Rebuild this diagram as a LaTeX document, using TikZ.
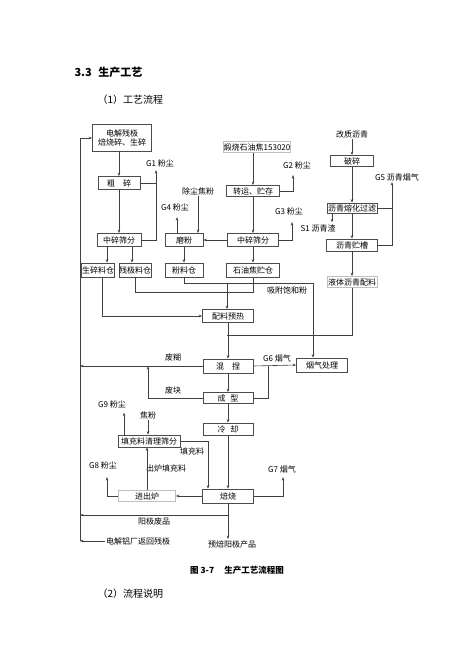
\documentclass[tikz,border=0pt]{standalone}
\usepackage{fontspec}
\setmainfont{Noto Sans CJK SC}
\usetikzlibrary{arrows.meta}

\begin{document}
\begin{tikzpicture}[x=1pt,y=-1pt,
    >={Stealth[length=3.5pt,width=2.6pt]},
    box/.style = {draw=black!70,
      line width=0.7pt,
      rectangle,
      inner sep=0pt,
      minimum height=13pt,
      font=\fontsize{8}{9}\selectfont},
    lbox/.style = {box, draw=black!25},
    lbl/.style = {inner sep=1pt, font=\fontsize{8}{9}\selectfont},
    flow/.style = {draw=black!75, line width=0.6pt, ->},
    line/.style = {draw=black!75, line width=0.6pt}]

\useasboundingbox (0,0) rectangle (474,670);

% headings
\node[anchor=west, font=\bfseries\fontsize{11}{13}\selectfont] (sec) at (71,72) {3.3\hspace{0.6em}生产工艺};
\node[anchor=west, font=\fontsize{10}{12}\selectfont] (sub1) at (94,100) {（1）工艺流程};

% left column
\node (cj) at (122,138) [box, minimum width=59pt, minimum height=27pt, align=center] {电解残极\\焙烧碎、生碎};
\node (cs) at (119,183) [box, minimum width=42pt] {粗\hspace{1em}碎};
\node (zs1) at (119,240) [box, minimum width=44pt] {中碎筛分};
\node (sc) at (98,270) [box, minimum width=33pt, minimum height=14pt] {生碎料仓};
\node (cc) at (135,270) [box, minimum width=31pt, minimum height=14pt] {残极料仓};

% middle column
\node (mf) at (184,240) [box, minimum width=38pt] {磨粉};
\node (fc) at (184,270) [box, minimum width=38pt, minimum height=14pt] {粉料仓};
\node (sy) at (257,147) [lbox, minimum width=61pt, minimum height=11pt] {煅烧石油焦153020};
\node (zy) at (253,191) [box, minimum width=53pt, minimum height=11pt] {转运、贮存};
\node (zs2) at (253,240) [box, minimum width=51pt] {中碎筛分};
\node (yc) at (253,270) [box, minimum width=53pt, minimum height=14pt] {石油焦贮仓};

% pitch column
\node (gz) at (352,134) [lbl] {改质沥青};
\node (ps) at (352,161) [box, minimum width=43pt, minimum height=11pt] {破碎};
\node (rh) at (352,208) [box, minimum width=50pt, minimum height=10pt] {沥青熔化过滤};
\node (zc) at (352,245) [box, minimum width=51pt, minimum height=12pt] {沥青贮槽};
\node (yt) at (352,282) [lbox, minimum width=50pt, minimum height=11pt] {液体沥青配料};

% main line
\node (pl) at (228,316) [box, minimum width=51pt] {配料预热};
\node (hn) at (228,366) [box, minimum width=50pt, minimum height=14pt] {混\hspace{1em}捏};
\node (cx) at (228,398) [box, minimum width=50pt, minimum height=11pt] {成\hspace{0.6em}型};
\node (lq) at (228,429) [box, minimum width=50pt, minimum height=12pt] {冷\hspace{0.6em}却};
\node (bs) at (228,496) [box, minimum width=51pt, minimum height=14pt] {焙烧};
\node (jc) at (147,496) [lbox, minimum width=57pt, minimum height=11pt] {进出炉};
\node (tc) at (149,441) [box, minimum width=62pt, minimum height=12pt] {填充料清理筛分};
\node (yq) at (322,365) [box, minimum width=51pt, minimum height=14pt] {烟气处理};

% labels
\node (g1) at (160,163) [lbl] {G1 粉尘};
\node (g2) at (297,165) [lbl] {G2 粉尘};
\node (g3) at (289,211) [lbl] {G3 粉尘};
\node (g4) at (175,207) [lbl] {G4 粉尘};
\node (g5) at (397,177) [lbl] {G5 沥青烟气};
\node (s1) at (318,228) [lbl] {S1 沥青渣};
\node (ccjf) at (198,191) [lbl] {除尘焦粉};
\node (xf) at (287,290) [lbl] {吸附饱和粉};
\node (fh) at (173,357) [lbl] {废糊};
\node (fk) at (173,390) [lbl] {废块};
\node (g6) at (277,358) [lbl] {G6 烟气};
\node (g9) at (112,404) [lbl] {G9 粉尘};
\node (jf) at (148,415) [lbl] {焦粉};
\node (tcl) at (192,451) [lbl] {填充料};
\node (cl) at (166,468) [lbl] {出炉填充料};
\node (g8) at (103,465) [lbl] {G8 粉尘};
\node (g7) at (282,469) [lbl] {G7 烟气};
\node (fp) at (154,521) [lbl] {阳极废品};
\node (cp) at (232,544) [lbl] {预焙阳极产品};
\node (hc) at (138,541) [lbl] {电解铝厂返回残极};

% free ends
\coordinate (t1) at (156,170);
\coordinate (t2) at (293,175);
\coordinate (t3) at (292,222);
\coordinate (t5) at (392,182);
\coordinate (t7) at (283,477);
\coordinate (t8) at (107,477);
\coordinate (j1) at (313,283);
\coordinate (j2) at (227,283);
\coordinate (j3) at (227,335);
\coordinate (j4) at (148,366);
\coordinate (j5) at (268,366);
\coordinate (j6) at (228,515);
\coordinate (rb) at (80,541);

% crushing
\draw[flow] (cs.north |- cj.south) -- (cs.north);
\draw[flow] (cs) -- (zs1);
\draw[flow] (zs1.east) -| (t1);
\draw[line] (cs.east) -- (cs.east -| t1);
\draw[flow] ([xshift=-12pt]zs1.south) -- ([xshift=-12pt]zs1.south |- sc.north);
\draw[flow] ([xshift=13pt]zs1.south) -- ([xshift=13pt]zs1.south |- cc.north);

% coke
\draw[flow] (zy.north |- sy.south) -- (zy.north);
\draw[flow] (zy) -- (zs2);
\draw[flow] (zs2) -- (yc);
\draw[flow] (zy.east) -| (t2);
\draw[flow] (zs2.east) -| (t3);
\draw[flow] (zs2.west) -- (mf.east);
\draw[flow] (mf) -- (fc);
\draw[flow] ([xshift=-7pt]mf.north) -- ++(0,-16);
\draw[flow] (ccjf) -- (ccjf |- mf.north);

% pitch
\draw[flow] (gz) -- (ps);
\draw[flow] (ps) -- (rh);
\draw[flow] (rh) -- (zc);
\draw[flow] (zc) -- (yt);
\draw[flow] ([xshift=-20pt]rh.south) -- ++(0,9);
\draw[flow] (zc.east) -| (t5);
\draw[line] (rh.east) -- (rh.east -| t5);

% batching
\draw[flow] (fc.south) |- (j1) -- (j1 |- yq.north);
\draw[flow] (j2) -- (j2 |- pl.north);
\draw[line] (cc.south) -- ++(0,15) -| (yc.south);
\draw[flow] ([xshift=4pt]sc.south) |- (pl.west);
\draw[line] (yt.south) |- (j3);

% mixing and forming
\draw[flow] (pl) -- (hn);
\draw[flow] (hn) -- (cx);
\draw[flow] (cx) -- (lq);
\draw[flow] (lq) -- (bs);
\draw[flow] (hn.west) -- (hn.west -| rb);
\draw[flow] (cx.west) -| (j4);
\draw[flow] (hn.east) -- (yq.west);
\draw[line] (cx.east) -| (j5);

% baking
\draw[flow] (tc.east) -| ([xshift=-20pt]bs.north);
\draw[flow] (bs.west) -- (jc.east);
\draw[flow] (jc.north) -- (jc.north |- tc.south);
\draw[flow] (jc.west) -| (t8);
\draw[flow] (bs.east) -| (t7);
\draw[flow] ([xshift=-25pt]tc.north) -- ++(0,-22);
\draw[flow] (jf) -- (jf |- tc.north);
\draw[flow] (bs.south) -- (bs.south |- cp.north);
\draw[flow] (j6) -- (j6 -| rb);
\draw[flow] (hc.west) -- (rb);
\draw[flow] (rb) |- (cj.west);

% caption
\node[font=\bfseries\fontsize{8.5}{10}\selectfont] (cap) at (237,570) {图 3-7\hspace{1.2em}生产工艺流程图};
\node[anchor=west, font=\fontsize{10}{12}\selectfont] (sub2) at (94,594) {（2）流程说明};

\end{tikzpicture}
\end{document}
